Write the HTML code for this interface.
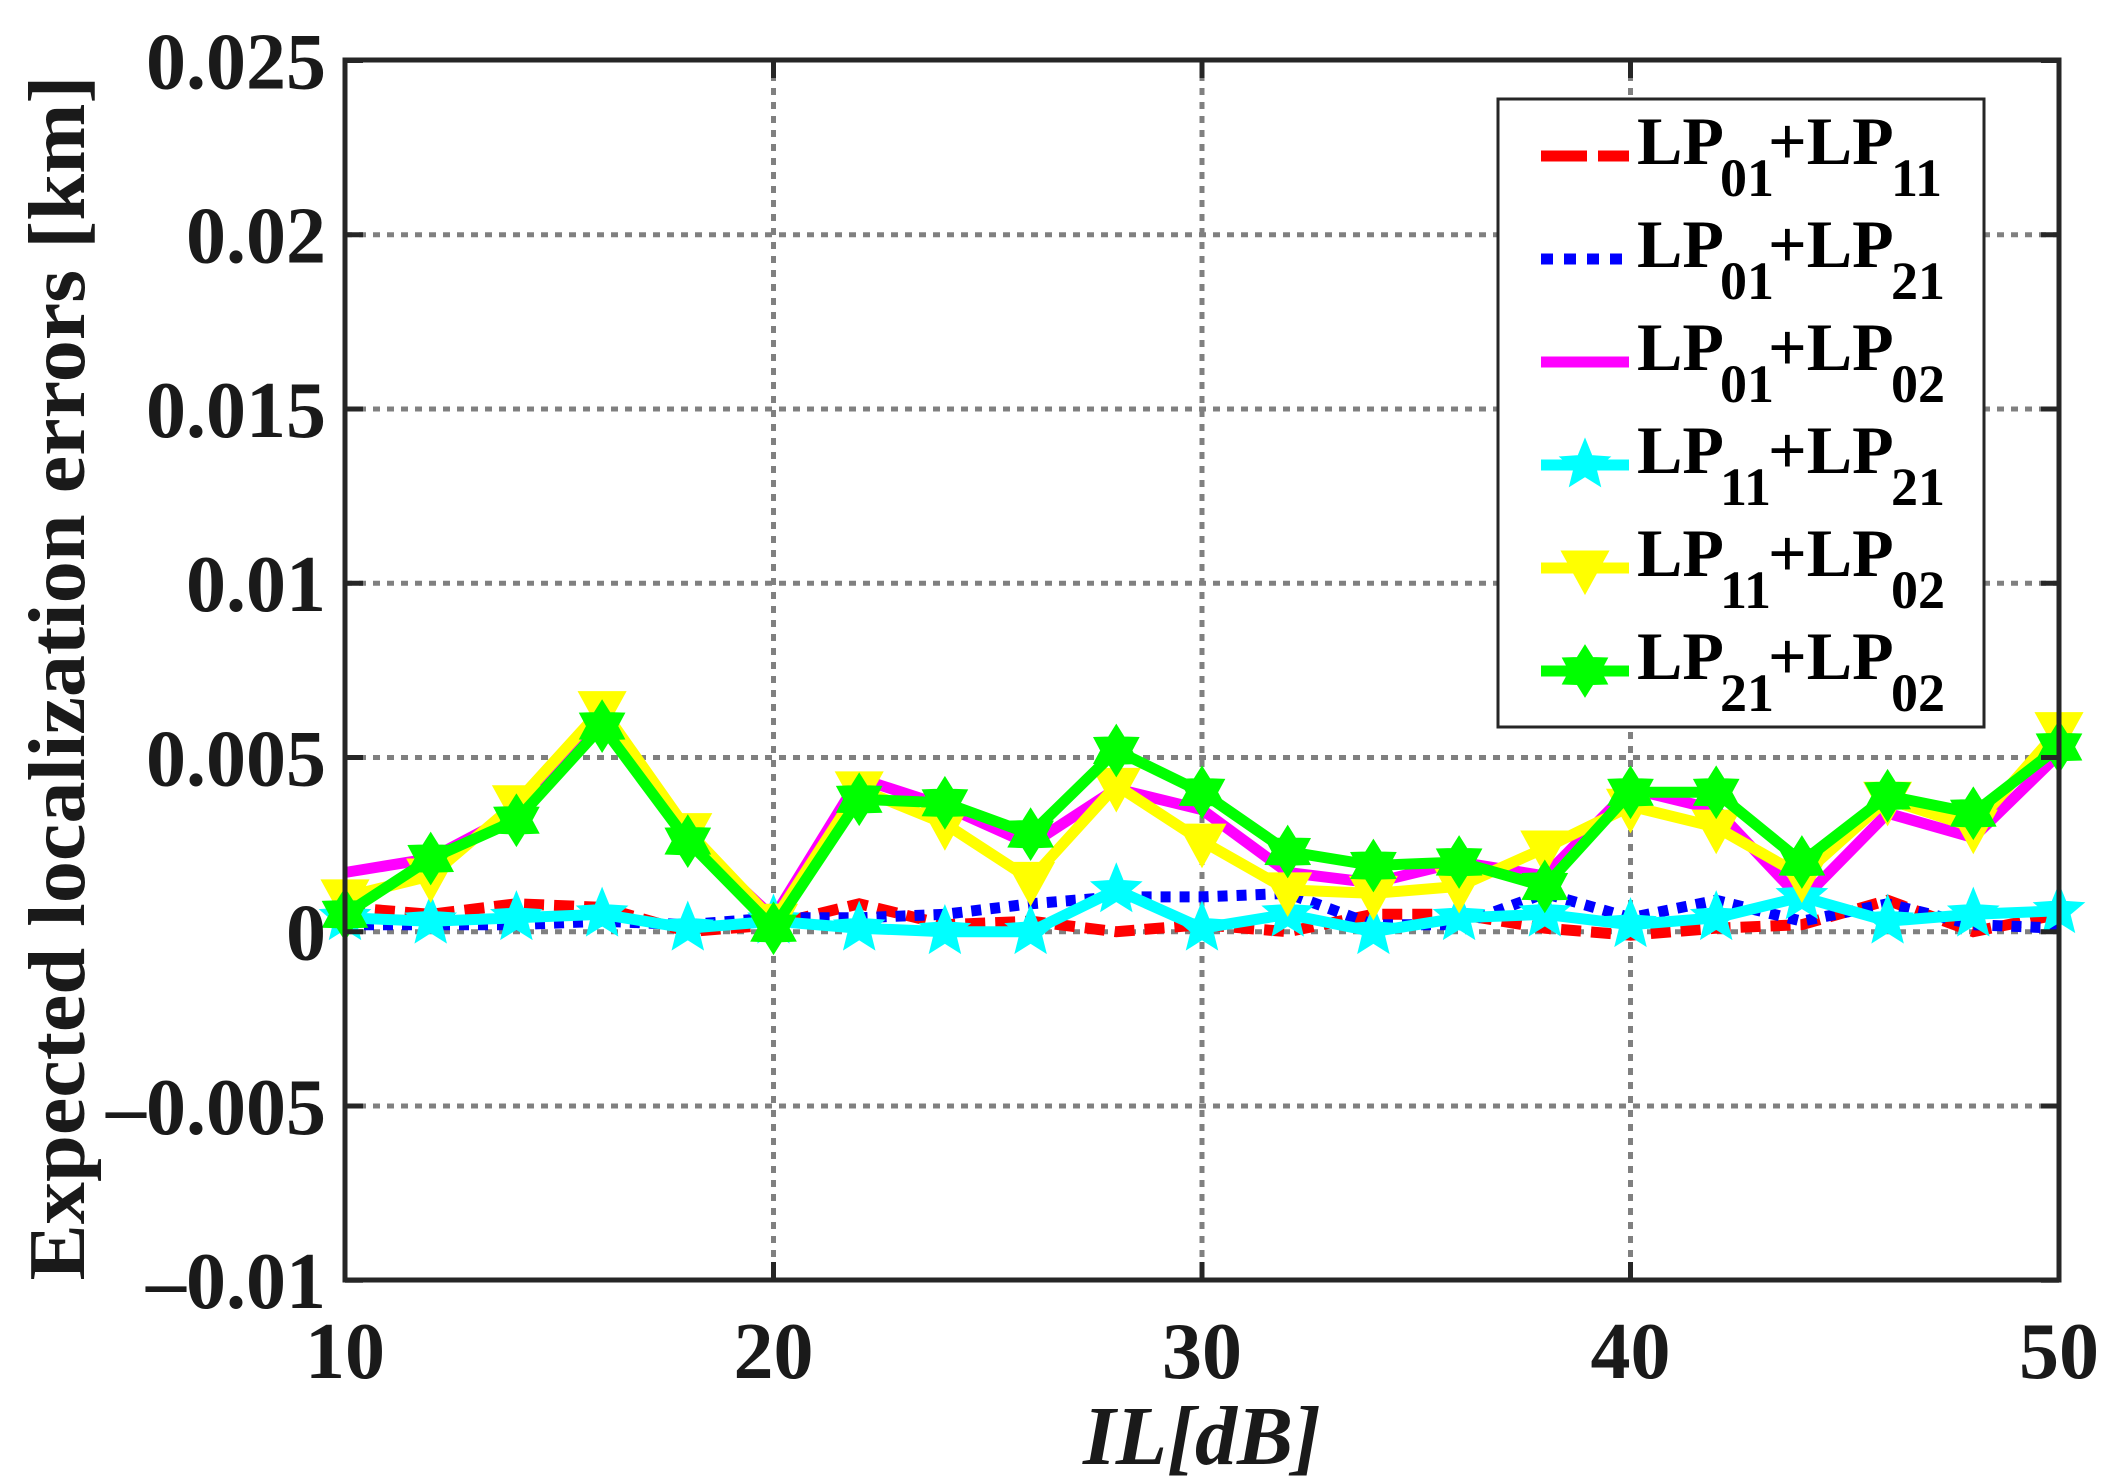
<!DOCTYPE html>
<html><head><meta charset="utf-8"><style>html,body{margin:0;padding:0;background:#fff}svg{display:block}svg text{font-family:"Liberation Serif","Times New Roman",serif;font-weight:bold}</style></head>
<body>
<svg id="s" width="2115" height="1483" viewBox="0 0 2115 1483" xmlns="http://www.w3.org/2000/svg">
<rect width="2115" height="1483" fill="#fff"/>
<g id="grid" stroke="#808080" stroke-width="5" stroke-dasharray="7 7"></g>
<g id="series"></g>
<rect x="345" y="60" width="1714" height="1220" fill="none" stroke="#262626" stroke-width="5"/>
<g id="ticks" stroke="#262626" stroke-width="5"></g>
<g id="lbl" font-size="80" fill="#1a1a1a"></g>
<text transform="translate(84,678) rotate(-90)" text-anchor="middle" font-size="80" fill="#1a1a1a" textLength="1205" lengthAdjust="spacingAndGlyphs">Expected localization errors [km]</text>
<text x="1202" y="1464" text-anchor="middle" font-size="84" font-style="italic" fill="#1a1a1a">IL[dB]</text>
<rect x="1498" y="99" width="486" height="628" fill="#fff" stroke="#262626" stroke-width="3"/>
<g id="leg"></g>
</svg>
<script>
var NS="http://www.w3.org/2000/svg";
function el(t,a,p){var e=document.createElementNS(NS,t);for(var k in a)e.setAttribute(k,a[k]);p.appendChild(e);return e;}
var L=345,R=2059,T=60,B=1280;
function X(v){return L+(v-10)*(R-L)/40;}
function Y(v){return 931.7-v*34.85;}
var g=document.getElementById('grid'),tk=document.getElementById('ticks'),lb=document.getElementById('lbl');
[20,30,40].forEach(function(v){el('line',{x1:X(v),x2:X(v),y1:T,y2:B},g);});
[0.025,0.02,0.015,0.01,0.005,0,-0.005].forEach(function(v){var y=Y(v*1000);if(y>T+3&&y<B-3)el('line',{x1:L,x2:R,y1:y,y2:y},g);});
var yl=[[25,"0.025"],[20,"0.02"],[15,"0.015"],[10,"0.01"],[5,"0.005"],[0,"0"],[-5,"\u20130.005"],[-10,"\u20130.01"]];
yl.forEach(function(a){var y=Y(a[0]);el('line',{x1:L,x2:L+18,y1:y,y2:y},tk);el('line',{x1:R-18,x2:R,y1:y,y2:y},tk);var t=el('text',{x:326,y:y+28,'text-anchor':'end'},lb);t.textContent=a[1];});
[10,20,30,40,50].forEach(function(v){var x=X(v);el('line',{x1:x,x2:x,y1:B,y2:B-18},tk);el('line',{x1:x,x2:x,y1:T,y2:T+18},tk);var t=el('text',{x:x,y:1378,'text-anchor':'middle'},lb);t.textContent=v;});
var D={
red:[0.7,0.5,0.8,0.7,0.0,0.2,0.8,0.2,0.3,0.0,0.2,0.0,0.5,0.5,0.1,-0.1,0.1,0.2,0.9,0.0,0.5],
blue:[0.2,0.2,0.2,0.3,0.2,0.4,0.4,0.5,0.8,1.0,1.0,1.1,0.2,0.2,1.1,0.4,0.9,0.3,0.8,0.2,0.1],
mag:[1.7,2.1,3.4,6.2,2.7,0.4,4.4,3.6,2.5,4.1,3.5,1.7,1.4,2.0,1.6,4.1,3.5,0.9,3.4,2.7,5.1],
cyan:[0.4,0.3,0.4,0.5,0.1,0.3,0.1,0.0,0.0,1.2,0.1,0.5,0.0,0.4,0.5,0.2,0.4,1.0,0.3,0.5,0.6],
yel:[1.0,1.6,3.7,6.4,2.9,0.3,4.1,3.1,1.5,4.2,2.6,1.2,1.1,1.3,2.4,3.6,3.0,1.6,3.8,3.0,5.8],
grn:[0.5,2.1,3.2,5.9,2.6,0.1,3.8,3.7,2.8,5.2,4.0,2.3,1.9,2.0,1.3,4.0,4.0,2.0,3.9,3.4,5.3]};
function star(cx,cy,n,ro,ri,rot){var p=[];for(var i=0;i<2*n;i++){var r=i%2?ri:ro,a=rot+i*Math.PI/n;p.push((cx+r*Math.sin(a)).toFixed(1)+','+(cy-r*Math.cos(a)).toFixed(1));}return p.join(' ');}
function mk(type,x,y,c,par){
 if(type=='star')el('polygon',{points:star(x,y,5,25,11,0),fill:c,stroke:c,'stroke-width':2},par);
 else if(type=='tri')el('polygon',{points:(x-22)+','+(y-16)+' '+(x+22)+','+(y-16)+' '+x+','+(y+24),fill:c,stroke:c,'stroke-width':3},par);
 else if(type=='hex')el('polygon',{points:star(x,y,6,25,15,0),fill:c,stroke:c,'stroke-width':2},par);
}
var S=[['red','#ff0000','20 10',null],['blue','#0000ff','10 9',null],['mag','#ff00ff',null,null],['cyan','#00ffff',null,'star'],['yel','#ffff00',null,'tri'],['grn','#00ff00',null,'hex']];
var sg=document.getElementById('series');
S.forEach(function(s){var d=D[s[0]],pts=d.map(function(v,i){return X(10+2*i).toFixed(1)+','+Y(v).toFixed(1);}).join(' ');
 var a={points:pts,fill:'none',stroke:s[1],'stroke-width':11,'stroke-linejoin':'miter'};if(s[2])a['stroke-dasharray']=s[2];el('polyline',a,sg);
 if(s[3])d.forEach(function(v,i){mk(s[3],X(10+2*i),Y(v),s[1],sg);});});
var lg=document.getElementById('leg');
var labs=[["01","11"],["01","21"],["01","02"],["11","21"],["11","02"],["21","02"]];
S.forEach(function(s,i){var y=156+i*103;var a={x1:1541,x2:1629,y1:y,y2:y,stroke:s[1],'stroke-width':11};if(s[2])a['stroke-dasharray']=(i==0?'46 11':'12 11');el('line',a,lg);
 if(s[3])mk(s[3],1585,y,s[1],lg);
 var t=el('text',{x:1637,y:y+8,'font-size':68,fill:'#000'},lg);
 t.innerHTML='<tspan>LP</tspan><tspan x="1720" y="'+(y+40)+'" font-size="54">'+labs[i][0]+'</tspan><tspan x="1768" y="'+(y+8)+'">+LP</tspan><tspan x="1891" y="'+(y+40)+'" font-size="54">'+labs[i][1]+'</tspan>';});
</script>
</body></html>
